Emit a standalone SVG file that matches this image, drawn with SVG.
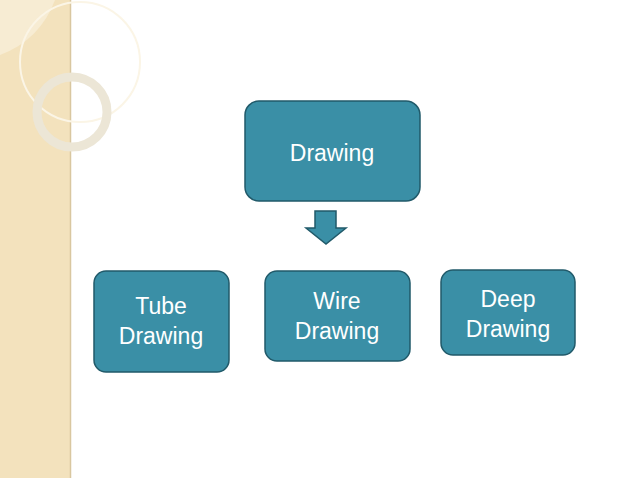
<svg xmlns="http://www.w3.org/2000/svg" width="638" height="478" viewBox="0 0 638 478">
<style>
.box{fill:#3a8fa6;stroke:#215a6a;stroke-width:1.5}
.t{font-family:"Liberation Sans",Arial,sans-serif;font-size:23px;fill:#fff;text-anchor:middle}
</style>
<rect width="638" height="478" fill="#fff"/>
<g id="decor">
<rect width="70" height="478" fill="#f3e2bd"/>
<line x1="70.5" y1="0" x2="70.5" y2="478" stroke="#d9c7a0" stroke-width="1.5"/>
<path d="M0 0 H55 Q40 40 0 55 Z" fill="#f7ecd3"/>
<circle cx="80" cy="62" r="60" fill="none" stroke="#fbf5e6" stroke-width="2"/>
<circle cx="72" cy="112" r="35" fill="none" stroke="#ece6d6" stroke-width="9"/>
</g>
<g id="drawing"><rect class="box" x="245" y="101" width="175" height="100" rx="14"/><text class="t" x="332" y="161">Drawing</text></g>
<g id="connectors"><path d="M315 211 H336 V228 H346 L326 244 L306 228 H315 Z" class="box"/></g>
<g id="tube"><rect class="box" x="94" y="271" width="135" height="101" rx="12"/><text class="t" x="161" y="314">Tube</text><text class="t" x="161" y="344">Drawing</text></g>
<g id="wire"><rect class="box" x="265" y="271" width="145" height="90" rx="12"/><text class="t" x="337" y="309">Wire</text><text class="t" x="337" y="339">Drawing</text></g>
<g id="deep"><rect class="box" x="441" y="270" width="134" height="85" rx="12"/><text class="t" x="508" y="307">Deep</text><text class="t" x="508" y="337">Drawing</text></g>
</svg>
